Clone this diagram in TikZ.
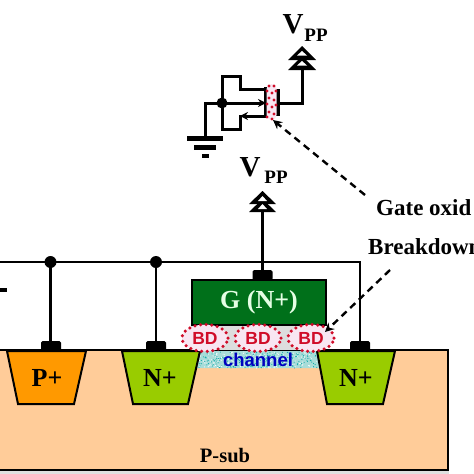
\documentclass[tikz,border=0pt]{standalone}
\usepackage{fontspec}
\setmainfont{Liberation Serif}
\setsansfont{Liberation Sans}
\usetikzlibrary{arrows.meta,shapes.geometric}
\definecolor{psub}{HTML}{FFCC99}
\definecolor{nplus}{HTML}{99CC00}
\definecolor{pplus}{HTML}{FF9900}
\definecolor{gategreen}{HTML}{00701A}
\definecolor{oxide}{HTML}{DDDDDD}
\definecolor{chan}{HTML}{A8DCD8}
\definecolor{bdpink}{HTML}{F8E6F2}
\definecolor{bdred}{HTML}{D00C28}
\tikzset{
  wire/.style={line width=2.5pt,black},
  swire/.style={line width=3pt,black},
  well/.style={draw=black,line width=2pt,line join=miter},
  contactpad/.style={fill=black,rounded corners=1.5pt,draw=none},
  dot/.style={circle,fill=black,inner sep=0pt,minimum size=#1},
  lbl/.style={font=\bfseries\fontsize{#1}{#1}\selectfont,inner sep=0pt,text=black},
  bd/.style={ellipse,draw=bdred,fill=bdpink,line width=3.5pt,dash pattern=on 0pt off 5.6pt,line cap=round,minimum width=46pt,minimum height=27pt,inner sep=0pt},
  bdtext/.style={inner sep=0pt,text=bdred,font=\sffamily\bfseries\fontsize{17.500}{17.500}\selectfont},
  leader/.style={line width=2.4pt,dash pattern=on 7pt off 5pt,-{Stealth[length=9pt,width=9pt]}}
}
\begin{document}
\begin{tikzpicture}[x=1pt,y=-1pt]
\useasboundingbox (0,0) rectangle (474,474);
\clip (0,0) rectangle (474,474);
\fill[white] (0,0) rectangle (474,474);
\fill[black!12] (0,471) rectangle (449,474);
% substrate
\fill[psub] (-2,350) rectangle (448,470);
\draw[line width=2pt] (-2,350) -- (448,350) -- (448,470) -- (-2,470);
% oxide and channel
\fill[oxide] (191,324) rectangle (325,350);
\fill[chan] (200,351) -- (317,351) -- (321,368) -- (196,368) -- cycle;
\pgfmathsetseed{7}
\foreach \i in {1,...,420}{
  \pgfmathsetmacro{\px}{199+rnd*118}
  \pgfmathsetmacro{\py}{352+rnd*16}
  \pgfmathsetmacro{\pc}{rnd}
  \ifdim\pc pt<0.5pt \fill[teal!70!cyan] (\px,\py) circle (0.55pt);
  \else \fill[white] (\px,\py) circle (0.55pt);\fi
}
% wells
\draw[well,fill=pplus] (7,351) -- (86,351) -- (74,404) -- (18,404) -- cycle;
\draw[well,fill=nplus] (122,351) -- (200,351) -- (188,404) -- (133,404) -- cycle;
\draw[well,fill=nplus] (317,351) -- (395,351) -- (383,404) -- (327,404) -- cycle;
% gate
\node[draw=black,line width=2pt,fill=gategreen,minimum width=134pt,minimum height=45pt,inner sep=0pt,anchor=north west,text=white!90!green,font=\bfseries\fontsize{26}{26}\selectfont] (gate) at (191,279) {G (N+)};
% contacts
\fill[contactpad] (41,341) rectangle (61,351);
\fill[contactpad] (146,341) rectangle (166,351);
\fill[contactpad] (350,341) rectangle (370,351);
\fill[contactpad] (252.500,270) rectangle (272.500,280);
% BD
\node[bd] (bd1) at (205,338) {};
\node[bd] (bd2) at (258,338) {};
\node[bd] (bd3) at (311,338) {};
\node[bdtext] (bt1) at (205,338.500) {BD};
\node[bdtext] (bt2) at (258,338.500) {BD};
\node[bdtext] (bt3) at (311,338.500) {BD};
\node[font=\sffamily\bfseries\fontsize{18.500}{18.500}\selectfont,text=blue!75!black,inner sep=0pt] (chl) at (258,360) {channel};
% labels in substrate
\node[lbl=26] (pp) at (47,378) {P+};
\node[lbl=26] (n1) at (160,378) {N+};
\node[lbl=26] (n2) at (356,378) {N+};
\node[lbl=20.500,anchor=base] (psublbl) at (225,462) {P-sub};
% wiring
\coordinate (j1) at (50.500,262);
\coordinate (j2) at (156,262);
\coordinate (corner) at (360,262);
\draw[wire] (-2,262) -- (j1) -- (j2) -- (corner) -- (360,342);
\draw[wire] (j1) -- (50.500,342);
\draw[wire] (j2) -- (156,342);
\node[dot=12pt] at (j1) {};
\node[dot=12pt] at (j2) {};
\fill (0,287.500) rectangle (7,291.500);
% VPP lower
\coordinate (gv) at (262.500,208);
\draw[wire] (262.500,271) -- (gv);
\fill (262.500,191) -- (276,204) -- (249,204) -- cycle;
\fill (262.500,199) -- (276,212) -- (249,212) -- cycle;
\fill[white] (262.500,196) -- (267,201) -- (258,201) -- cycle;
\fill[white] (262.500,204) -- (267,209) -- (258,209) -- cycle;
\node[lbl=29,anchor=base] (v2) at (250,176) {V};
\node[lbl=19,anchor=base] (pp2) at (276,183) {PP};
% schematic
\coordinate (vt) at (302,70);
\draw[swire] (vt) -- (302,103) -- (278,103);
\draw[line width=3.5pt] (278,89) -- (278,116);
\draw[swire] (265.500,87) -- (265.500,118);
\fill (302,46) -- (316,60) -- (288,60) -- cycle;
\fill (302,56) -- (316,70) -- (288,70) -- cycle;
\fill[white] (302,51) -- (307,55.500) -- (297,55.500) -- cycle;
\fill[white] (302,61) -- (307,65.500) -- (297,65.500) -- cycle;
\coordinate (bodyj) at (222,103);
\coordinate (gndtop) at (205,137);
\draw[swire] (gndtop) -- (205,103) -- (bodyj);
\draw[swire] (240,129) -- (222,129) -- (222,76) -- (240,76) -- (240,89) -- (265.500,89);
\draw[swire,-{Stealth[length=8pt,width=8pt]}] (265.500,116) -- (240,116);
\draw[swire] (240,115) -- (240,130.500);
\node[dot=11pt] at (bodyj) {};
\node[rounded corners=5pt,fill=bdpink,minimum width=10pt,minimum height=36pt,inner sep=0pt] (cell) at (271.500,102) {};
\foreach \a/\b in {269/86,274/86,267/91,272/93,276/91,269/98,274/100,267/104,272/107,276/105,269/112,274/114,267/117,272/119}{\fill[bdred] (\a,\b) circle (1.6pt);}
\draw[swire,-{Stealth[length=8pt,width=8pt]}] (bodyj) -- (266,103);
\fill (187,135.500) rectangle (223,140.500);
\fill (194,144.500) rectangle (216,149.500);
\fill (202,153.500) rectangle (209,158);
\node[lbl=29,anchor=base] (v1) at (293,33) {V};
\node[lbl=19,anchor=base] (pp1) at (316,41) {PP};
% callouts
\node[lbl=23,anchor=base west] (goxlbl) at (376,215) {Gate oxid};
\node[lbl=23,anchor=base west] (bdlbl) at (368,254) {Breakdown};
\coordinate (g0) at (365,195);
\coordinate (b0) at (390,270);
\draw[leader] (g0) -- (273,120);
\draw[leader] (b0) -- (325,332);
\end{tikzpicture}
\end{document}
